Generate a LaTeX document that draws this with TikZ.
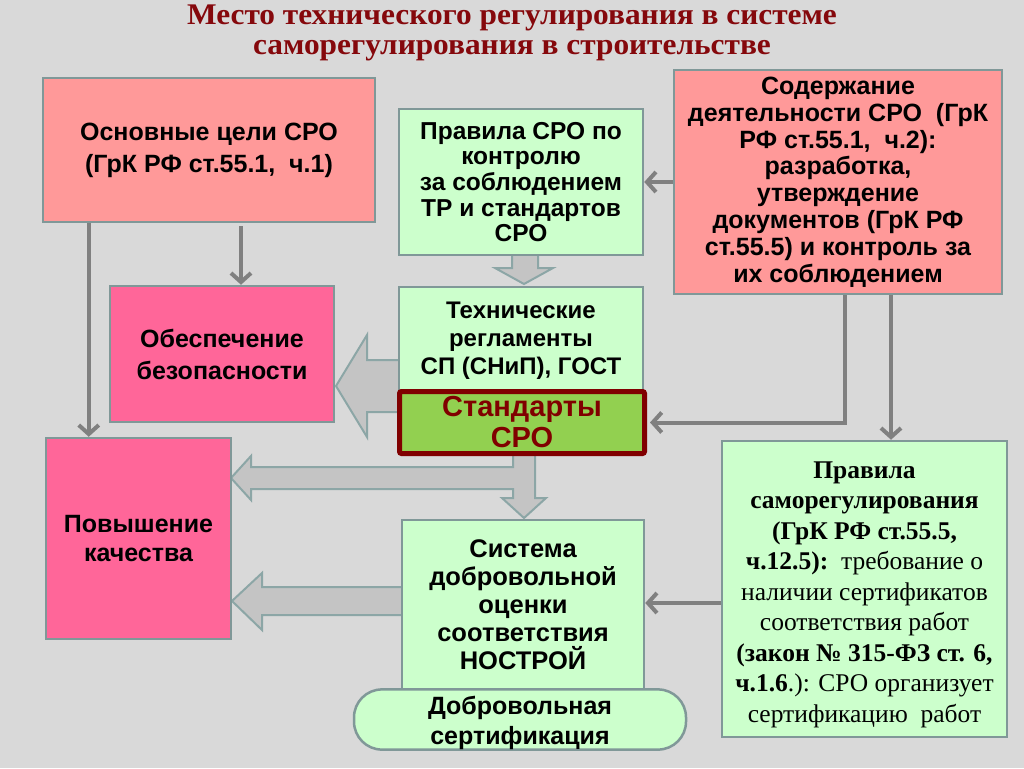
\documentclass[tikz,border=0pt]{standalone}
\usepackage{fontspec}
\setmainfont{Liberation Serif}
\setsansfont{Liberation Sans}
\newfontfamily\ttlfont[FakeStretch=1.045]{Liberation Serif}
\usetikzlibrary{arrows.meta}
\definecolor{bgc}{RGB}{217,217,217}
\definecolor{salmon}{RGB}{255,153,153}
\definecolor{hotpink}{RGB}{255,102,153}
\definecolor{lgreen}{RGB}{204,255,204}
\definecolor{sgreen}{RGB}{146,208,80}
\definecolor{dred}{RGB}{128,0,0}
\definecolor{titlec}{RGB}{133,8,12}
\definecolor{bordc}{RGB}{128,152,152}
\definecolor{conc}{RGB}{128,128,128}
\definecolor{barrowf}{RGB}{196,196,196}
\definecolor{barrowd}{RGB}{140,166,166}
\pgfdeclarelayer{back}
\pgfdeclarelayer{mid}
\pgfsetlayers{back,mid,main}
\tikzset{
  box/.style={draw=bordc, line width=2.5pt, inner sep=0pt, align=center, anchor=center},
  fs/.style 2 args={font=\sffamily\bfseries\fontsize{#1}{#2}\selectfont},
  conn/.style={draw=conc, line width=4pt, -{Straight Barb[length=9pt,width=20pt]}},
  barrow/.style={fill=barrowf, draw=barrowd, line width=2pt, line join=miter},
}
\begin{document}
\begin{tikzpicture}[x=1pt,y=-1pt]
\useasboundingbox (0,0) rectangle (1024,768);
\begin{pgfonlayer}{back}
\fill[bgc] (0,0) rectangle (1024,768);
\end{pgfonlayer}

\node[font=\ttlfont\bfseries\fontsize{30}{30}\selectfont, text=titlec, align=center] (title) at (512,33)
  {Место технического регулирования в системе\\саморегулирования в строительстве};

\node[box, fill=salmon, minimum width=332pt, minimum height=144pt, fs={25}{32}] (goals) at (209,150)
  {Основные цели СРО\\(ГрК РФ ст.55.1,\ \ ч.1)};
\node[box, fill=lgreen, minimum width=244pt, minimum height=146pt, fs={24.5}{25.7}] (rules) at (521,182)
  {Правила СРО по\\контролю\\за соблюдением\\ТР и стандартов\\СРО};
\node[box, fill=salmon, minimum width=328pt, minimum height=224pt, fs={25}{26.8}] (content) at (838,182)
  {Содержание\\деятельности СРО\ \ (ГрК\\РФ ст.55.1,\ \ ч.2):\\разработка,\\утверждение\\документов (ГрК РФ\\ст.55.5) и контроль за\\их соблюдением};
\node[box, fill=hotpink, minimum width=224pt, minimum height=136pt, fs={25}{32}] (safety) at (222,354)
  {Обеспечение\\безопасности};
\node[box, fill=lgreen, minimum width=244pt, minimum height=107pt, fs={24}{28}] (tech) at (521,340.5)
  {Технические\\регламенты\\СП (СНиП), ГОСТ};
\node[box, draw=dred, line width=5pt, rounded corners=2pt, fill=sgreen, text=dred, minimum width=245pt, minimum height=62pt, fs={29}{31}] (standards) at (522,422.5)
  {Стандарты\\СРО};
\node[box, fill=hotpink, minimum width=185pt, minimum height=201pt, fs={25}{29}] (quality) at (138.5,538.5)
  {Повышение\\качества};
\node[box, fill=lgreen, minimum width=242pt, minimum height=169pt, fs={25.5}{28}] (system) at (523,604.5)
  {Система\\добровольной\\оценки\\соответствия\\НОСТРОЙ};
\node[box, fill=lgreen, minimum width=332pt, minimum height=57pt, rounded corners=28pt, fs={25}{30}] (cert) at (520,719.5)
  {\rule{0pt}{25pt}Добровольная\\сертификация};
\node[box, fill=lgreen, minimum width=285pt, minimum height=296pt, font=\rmfamily\fontsize{25.5}{30.5}\selectfont] (selfreg) at (864.5,589)
  {\rule{0pt}{28pt}\textbf{Правила}\\\textbf{саморегулирования}\\\textbf{(ГрК РФ ст.55.5,}\\\textbf{ч.12.5):}\ \ требование о\\наличии сертификатов\\соответствия работ\\\textbf{(закон № 315-ФЗ ст. 6,}\\\textbf{ч.1.6}.): СРО организует\\сертификацию\ \ работ};

\begin{pgfonlayer}{mid}
\draw[barrow] (512,250) -- (512,268) -- (495,268) -- (524,284) -- (553,268) -- (538,268) -- (538,250) -- cycle;
\draw[barrow] (404,360) -- (367,360) -- (367,335) -- (336,386) -- (367,437) -- (367,412) -- (404,412) -- cycle;
\draw[barrow] (513,450) -- (513,467) -- (251,467) -- (251,456) -- (231,478) -- (251,500) -- (251,489)
  -- (513,489) -- (513,498) -- (502,498) -- (524,518) -- (546,498) -- (535,498) -- (535,450) -- cycle;
\draw[barrow] (405,587) -- (262,587) -- (262,573) -- (232,601) -- (262,630) -- (262,615) -- (405,615) -- cycle;
\end{pgfonlayer}

\coordinate (g1) at ([xshift=47pt]goals.south west);
\draw[conn] (g1) -- (g1 |- quality.north);
\coordinate (g2) at ([xshift=32pt,yshift=-3pt]goals.south);
\draw[conn] (g2) -- (g2 |- safety.north);
\draw[conn] (content.west) -- (content.west -| rules.east);
\coordinate (c1) at ([xshift=7pt]content.south);
\coordinate (s0) at ([xshift=3pt]standards.east);
\draw[conn] (c1) -- (c1 |- s0) -- (s0);
\coordinate (c2) at ([xshift=53pt]content.south);
\draw[conn] (c2) -- (c2 |- selfreg.north);
\coordinate (s1) at ([yshift=-14pt]selfreg.west);
\draw[conn] (s1) -- (s1 -| system.east);
\end{tikzpicture}
\end{document}
